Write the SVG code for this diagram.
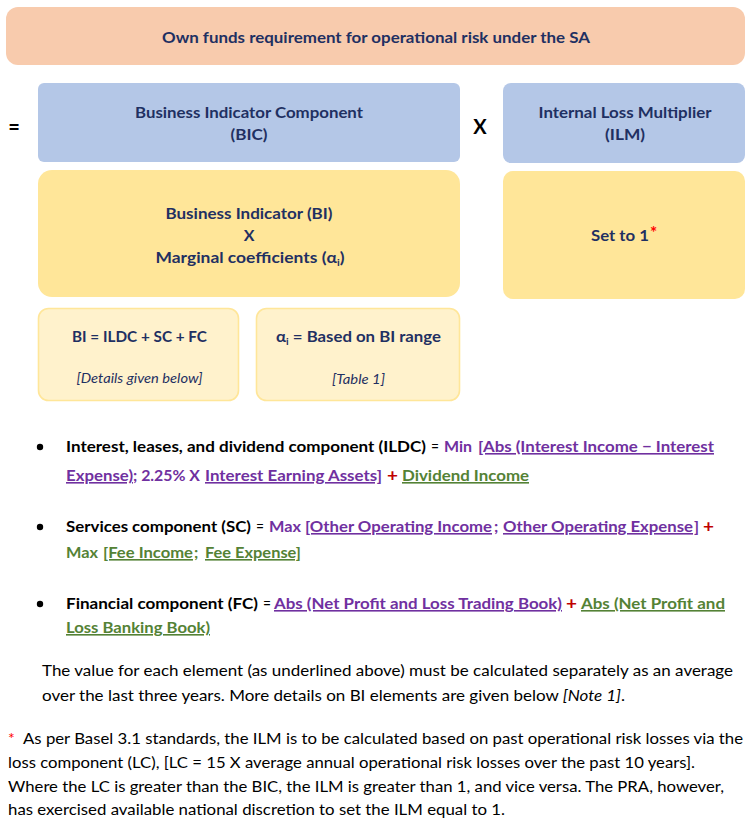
<svg xmlns="http://www.w3.org/2000/svg" width="750" height="822" viewBox="0 0 750 822">
<style>
text{font-family:Lato,"Open Sans","Liberation Sans",sans-serif;}
.nav{font-weight:700;fill:#1F3062;font-size:16px;}
.sm{font-style:italic;fill:#1F3062;font-size:13px;}
.blk{fill:#000;font-size:16px;}
.b{font-weight:700;}
.pur{fill:#7030A0;font-weight:700;font-size:16px;}
.grn{fill:#548235;font-weight:700;font-size:16px;}
.red{fill:#C00000;font-weight:700;font-size:17px;}
.u{text-decoration:underline;}
.op{font-weight:700;fill:#000;font-size:20px;}
.peach{fill:#F8CBAD;}
.blue{fill:#B4C7E7;}
.yel{fill:#FFE699;}
.ltyel{fill:#FFF2CC;stroke:#FFE699;stroke-width:1.6;}
</style>

<g id="header">
<rect class="peach" x="6" y="7" width="739" height="58" rx="12"/>
<text class="nav" x="376" y="43" text-anchor="middle" textLength="428" lengthAdjust="spacingAndGlyphs">Own funds requirement for operational risk under the SA</text>
</g>

<g id="operators">
<text class="op" x="14" y="134" text-anchor="middle">=</text>
<text class="op" x="480" y="134" text-anchor="middle">X</text>
</g>

<g id="bic">
<rect class="blue" x="38" y="83" width="422" height="79" rx="6"/>
<text class="nav" x="249" y="118" text-anchor="middle" textLength="228" lengthAdjust="spacingAndGlyphs">Business Indicator Component</text>
<text class="nav" x="249" y="140" text-anchor="middle" textLength="37" lengthAdjust="spacingAndGlyphs">(BIC)</text>
</g>

<g id="ilm">
<rect class="blue" x="503" y="83" width="242" height="80" rx="8"/>
<text class="nav" x="625" y="118" text-anchor="middle" textLength="173" lengthAdjust="spacingAndGlyphs">Internal Loss Multiplier</text>
<text class="nav" x="625" y="140" text-anchor="middle" textLength="40" lengthAdjust="spacingAndGlyphs">(ILM)</text>
</g>

<g id="bi-alpha">
<rect class="yel" x="38" y="170" width="422" height="127" rx="14"/>
<text class="nav" x="249" y="219" text-anchor="middle" textLength="167" lengthAdjust="spacingAndGlyphs">Business Indicator (BI)</text>
<text class="nav" x="249" y="241" text-anchor="middle">X</text>
<text class="nav" x="250" y="263" text-anchor="middle" textLength="189" lengthAdjust="spacingAndGlyphs">Marginal coefficients (α<tspan font-size="10" dy="3">i</tspan><tspan dy="-3">)</tspan></text>
</g>

<g id="set-to-1">
<rect class="yel" x="503" y="171" width="242" height="128" rx="10"/>
<text class="nav" x="591" y="241" textLength="58" lengthAdjust="spacingAndGlyphs">Set to 1</text>
<text x="650" y="239" fill="#FF0000" font-weight="700" font-size="17">*</text>
</g>

<g id="bi-formula">
<rect class="ltyel" x="38.5" y="308.5" width="200" height="92" rx="10"/>
<text class="nav" x="139.5" y="342" text-anchor="middle" textLength="135" lengthAdjust="spacingAndGlyphs">BI = ILDC + SC + FC</text>
<text class="sm" x="139.5" y="383" text-anchor="middle" textLength="126" lengthAdjust="spacingAndGlyphs">[Details given below]</text>
</g>

<g id="alpha-range">
<rect class="ltyel" x="256.5" y="308.5" width="203" height="92" rx="10"/>
<text class="nav" x="358.5" y="342" text-anchor="middle" textLength="165" lengthAdjust="spacingAndGlyphs">α<tspan font-size="10" dy="3">i</tspan><tspan dy="-3"> = Based on BI range</tspan></text>
<text class="sm" x="358.5" y="384" text-anchor="middle" textLength="53" lengthAdjust="spacingAndGlyphs">[Table 1]</text>
</g>

<g id="connectors"></g>

<g id="bullets">
<circle cx="40" cy="447" r="3.2" fill="#000"/>
<circle cx="40" cy="527" r="3.2" fill="#000"/>
<circle cx="40" cy="604" r="3.2" fill="#000"/>

<text class="blk b" x="66" y="452" textLength="360" lengthAdjust="spacingAndGlyphs">Interest, leases, and dividend component (ILDC)</text>
<text class="blk" x="431" y="452" textLength="8" lengthAdjust="spacingAndGlyphs">=</text>
<text class="pur" x="444" y="452" textLength="28" lengthAdjust="spacingAndGlyphs">Min</text>
<text class="pur u" x="478" y="452" textLength="236" lengthAdjust="spacingAndGlyphs">[Abs (Interest Income − Interest</text>
<text class="pur u" x="66" y="481" textLength="67" lengthAdjust="spacingAndGlyphs">Expense)</text>
<text class="pur" x="133" y="481" textLength="67" lengthAdjust="spacingAndGlyphs">; 2.25% X</text>
<text class="pur u" x="205" y="481" textLength="177" lengthAdjust="spacingAndGlyphs">Interest Earning Assets]</text>
<text class="red" x="387" y="481" textLength="11" lengthAdjust="spacingAndGlyphs">+</text>
<text class="grn u" x="402" y="481" textLength="127" lengthAdjust="spacingAndGlyphs">Dividend Income</text>

<text class="blk b" x="66" y="532" textLength="185" lengthAdjust="spacingAndGlyphs">Services component (SC)</text>
<text class="blk" x="256" y="532" textLength="8" lengthAdjust="spacingAndGlyphs">=</text>
<text class="pur" x="269" y="532" textLength="32" lengthAdjust="spacingAndGlyphs">Max</text>
<text class="pur u" x="305" y="532" textLength="187" lengthAdjust="spacingAndGlyphs">[Other Operating Income</text>
<text class="pur" x="494" y="532">;</text>
<text class="pur u" x="503" y="532" textLength="190" lengthAdjust="spacingAndGlyphs">Other Operating Expense</text>
<text class="pur" x="694" y="532">]</text>
<text class="red" x="703" y="532" textLength="11" lengthAdjust="spacingAndGlyphs">+</text>
<text class="grn" x="66" y="558" textLength="32" lengthAdjust="spacingAndGlyphs">Max</text>
<text class="grn u" x="103" y="558" textLength="90" lengthAdjust="spacingAndGlyphs">[Fee Income</text>
<text class="grn" x="194" y="558">;</text>
<text class="grn u" x="205" y="558" textLength="96" lengthAdjust="spacingAndGlyphs">Fee Expense]</text>

<text class="blk b" x="66" y="609" textLength="192" lengthAdjust="spacingAndGlyphs">Financial component (FC)</text>
<text class="blk" x="263" y="609" textLength="8" lengthAdjust="spacingAndGlyphs">=</text>
<text class="pur u" x="274" y="609" textLength="288" lengthAdjust="spacingAndGlyphs">Abs (Net Profit and Loss Trading Book)</text>
<text class="red" x="566" y="609" textLength="11" lengthAdjust="spacingAndGlyphs">+</text>
<text class="grn u" x="581" y="609" textLength="144" lengthAdjust="spacingAndGlyphs">Abs (Net Profit and</text>
<text class="grn u" x="66" y="633" textLength="144" lengthAdjust="spacingAndGlyphs">Loss Banking Book)</text>
</g>

<g id="note">
<text class="blk" x="42" y="676" textLength="691" lengthAdjust="spacingAndGlyphs">The value for each element (as underlined above) must be calculated separately as an average</text>
<text class="blk" x="42" y="701" textLength="583" lengthAdjust="spacingAndGlyphs">over the last three years. More details on BI elements are given below <tspan font-style="italic">[Note 1]</tspan>.</text>
</g>

<g id="footnote">
<text x="8" y="744" fill="#FF0000" font-size="16">*</text>
<text class="blk" x="23" y="744" textLength="720" lengthAdjust="spacingAndGlyphs">As per Basel 3.1 standards, the ILM is to be calculated based on past operational risk losses via the</text>
<text class="blk" x="8" y="768" textLength="687" lengthAdjust="spacingAndGlyphs">loss component (LC), [LC = 15 X average annual operational risk losses over the past 10 years].</text>
<text class="blk" x="8" y="792" textLength="716" lengthAdjust="spacingAndGlyphs">Where the LC is greater than the BIC, the ILM is greater than 1, and vice versa. The PRA, however,</text>
<text class="blk" x="8" y="815" textLength="497" lengthAdjust="spacingAndGlyphs">has exercised available national discretion to set the ILM equal to 1.</text>
</g>
</svg>
